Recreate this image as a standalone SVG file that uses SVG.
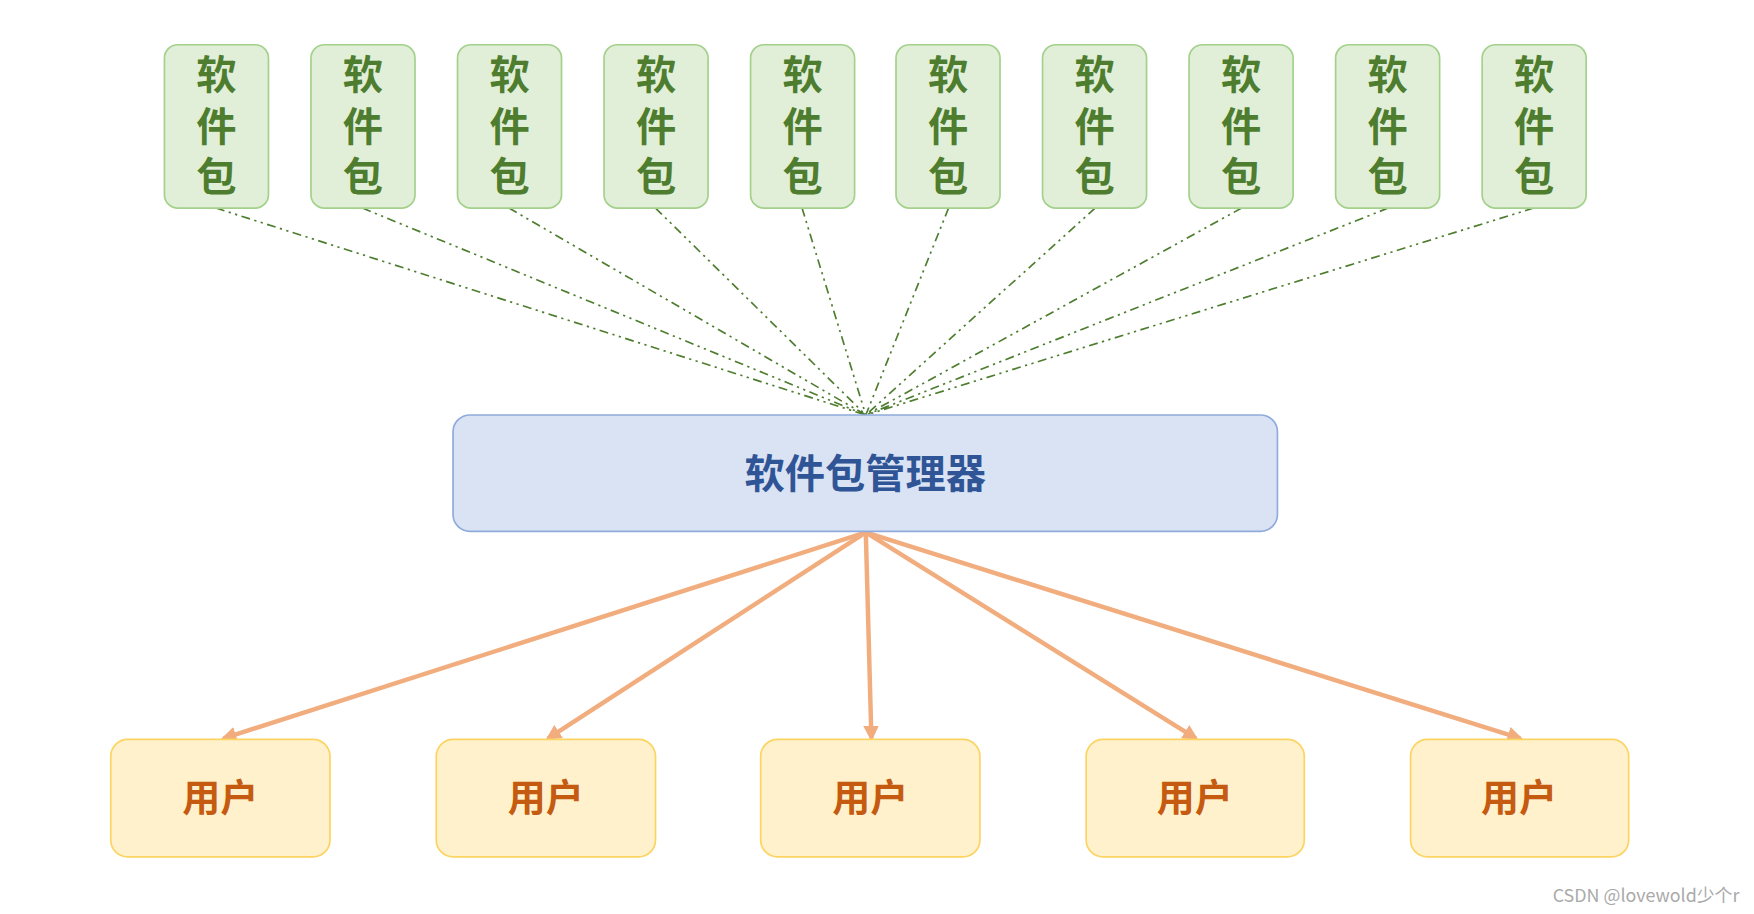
<svg xmlns="http://www.w3.org/2000/svg" width="1754" height="914" viewBox="0 0 1754 914">
<defs>
<style>
.pkg rect{fill:#e1efd8;stroke:#a3d18b;stroke-width:1.5}
.pkg text{fill:#4e7d2f;font:bold 36px "Noto Sans CJK SC",sans-serif;text-anchor:middle}
.usr rect{fill:#fff1cc;stroke:#fcd462;stroke-width:1.5}
.usr text{fill:#c55a11;font:bold 34px "Noto Sans CJK SC",sans-serif;text-anchor:middle}
.dash{stroke:#4e7d2f;stroke-width:1.5;stroke-dasharray:8 4 2 4 2 4;fill:none}
.arr{stroke:#f2ad7f;stroke-width:4;fill:none;marker-end:url(#ah)}
</style>
<marker id="ah" viewBox="0 0 10 10" refX="8" refY="5" markerWidth="3.5" markerHeight="3.5" orient="auto"><path d="M0,0L10,5L0,10z" fill="#f2ad7f"/></marker>
</defs>
<rect width="1754" height="914" fill="#fff"/>
<g transform="scale(1.1186)">
<g id="connectors">
<path class="dash" d="M193,186L774,371M324,186L774,371M455,186L774,371M586,186L774,371M717,186L774,371M848,186L774,371M979,186L774,371M1110,186L774,371M1241,186L774,371M1371,186L774,371"/>
<path class="arr" d="M774,476L200,660"/>
<path class="arr" d="M774,476L490,660"/>
<path class="arr" d="M774,476L779,660"/>
<path class="arr" d="M774,476L1069,660"/>
<path class="arr" d="M774,476L1359,660"/>
</g>
<g id="pkg1" class="pkg"><rect x="147" y="40" width="93" height="146" rx="12"/><text x="193.5" y="80">软</text><text x="193.5" y="126">件</text><text x="193.5" y="171">包</text></g>
<g id="pkg2" class="pkg"><rect x="278" y="40" width="93" height="146" rx="12"/><text x="324.5" y="80">软</text><text x="324.5" y="126">件</text><text x="324.5" y="171">包</text></g>
<g id="pkg3" class="pkg"><rect x="409" y="40" width="93" height="146" rx="12"/><text x="455.5" y="80">软</text><text x="455.5" y="126">件</text><text x="455.5" y="171">包</text></g>
<g id="pkg4" class="pkg"><rect x="540" y="40" width="93" height="146" rx="12"/><text x="586.5" y="80">软</text><text x="586.5" y="126">件</text><text x="586.5" y="171">包</text></g>
<g id="pkg5" class="pkg"><rect x="671" y="40" width="93" height="146" rx="12"/><text x="717.5" y="80">软</text><text x="717.5" y="126">件</text><text x="717.5" y="171">包</text></g>
<g id="pkg6" class="pkg"><rect x="801" y="40" width="93" height="146" rx="12"/><text x="847.5" y="80">软</text><text x="847.5" y="126">件</text><text x="847.5" y="171">包</text></g>
<g id="pkg7" class="pkg"><rect x="932" y="40" width="93" height="146" rx="12"/><text x="978.5" y="80">软</text><text x="978.5" y="126">件</text><text x="978.5" y="171">包</text></g>
<g id="pkg8" class="pkg"><rect x="1063" y="40" width="93" height="146" rx="12"/><text x="1109.5" y="80">软</text><text x="1109.5" y="126">件</text><text x="1109.5" y="171">包</text></g>
<g id="pkg9" class="pkg"><rect x="1194" y="40" width="93" height="146" rx="12"/><text x="1240.5" y="80">软</text><text x="1240.5" y="126">件</text><text x="1240.5" y="171">包</text></g>
<g id="pkg10" class="pkg"><rect x="1325" y="40" width="93" height="146" rx="12"/><text x="1371.5" y="80">软</text><text x="1371.5" y="126">件</text><text x="1371.5" y="171">包</text></g>
<g id="manager"><rect x="405" y="371" width="737" height="104" rx="15" fill="#dae3f3" stroke="#8faadc" stroke-width="1.5"/><text x="773.5" y="436" fill="#2f5597" style="font:bold 36px 'Noto Sans CJK SC',sans-serif;text-anchor:middle">软件包管理器</text></g>
<g id="user1" class="usr"><rect x="99" y="661" width="196" height="105" rx="15"/><text x="197" y="725">用户</text></g>
<g id="user2" class="usr"><rect x="390" y="661" width="196" height="105" rx="15"/><text x="488" y="725">用户</text></g>
<g id="user3" class="usr"><rect x="680" y="661" width="196" height="105" rx="15"/><text x="778" y="725">用户</text></g>
<g id="user4" class="usr"><rect x="971" y="661" width="195" height="105" rx="15"/><text x="1068" y="725">用户</text></g>
<g id="user5" class="usr"><rect x="1261" y="661" width="195" height="105" rx="15"/><text x="1358" y="725">用户</text></g>
<text x="1555" y="806" fill="#aaa" style="font:16px 'Noto Sans CJK SC',sans-serif;text-anchor:end">CSDN @lovewold少个r</text>
</g>
</svg>
